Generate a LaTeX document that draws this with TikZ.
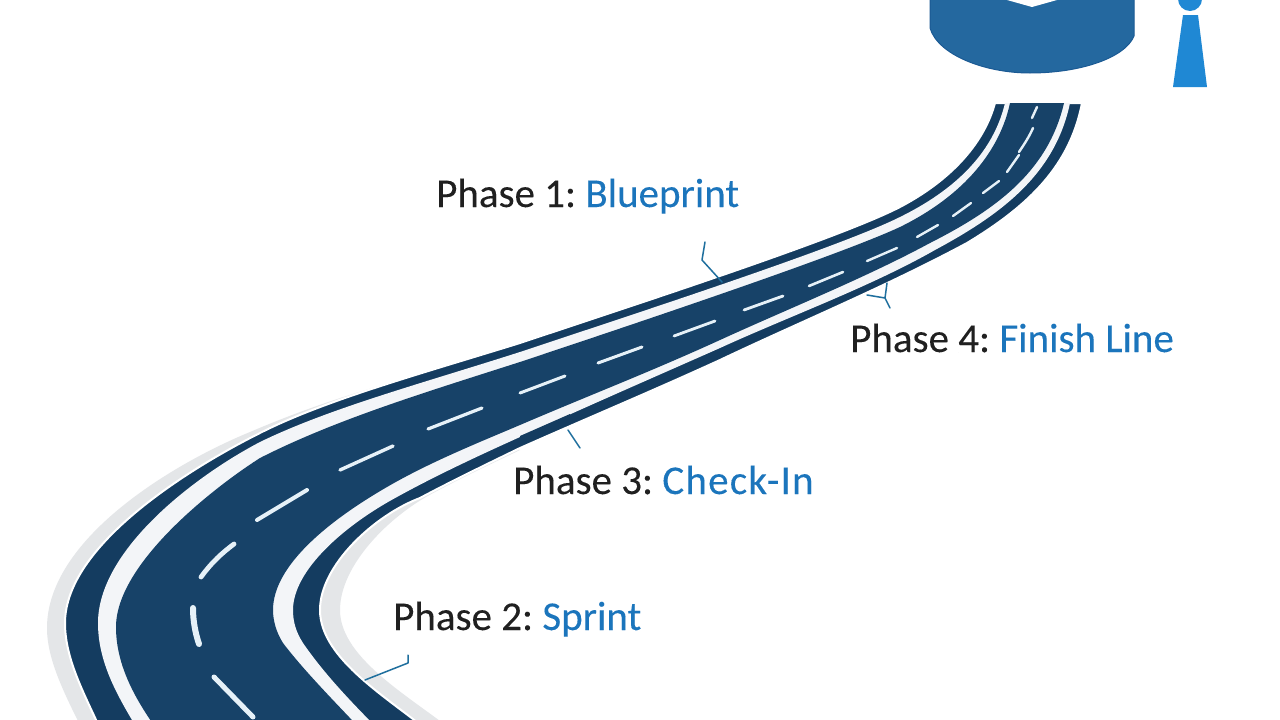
\documentclass[tikz,border=0pt]{standalone}
\usepackage{fontspec}
\newfontfamily\labfont{Carlito}[FakeBold=0.15]
\definecolor{roaddark}{HTML}{174268}
\definecolor{edgedark}{HTML}{143C60}
\definecolor{stripe}{HTML}{F3F5F8}
\definecolor{halo}{HTML}{E4E6E8}
\definecolor{dashc}{HTML}{E6F1F8}
\definecolor{towerblue}{HTML}{24689F}
\definecolor{towerline}{HTML}{1B5A94}
\definecolor{personblue}{HTML}{1F88D4}
\definecolor{calloutc}{HTML}{1F6F9E}
\definecolor{labelblue}{HTML}{1B75BC}
\definecolor{labelblack}{HTML}{202020}
\tikzset{
  dashline/.style={draw=dashc,line cap=round},
  callout/.style={draw=calloutc,line width=1.5pt,line join=round,line cap=round},
  phaselabel/.style={anchor=base west,inner sep=0pt,font=\labfont\fontsize{41}{46}\selectfont,text=labelblack}
}
\newcommand{\hl}[1]{\kern-3pt\textcolor{labelblue}{#1}}
\begin{document}
\begin{tikzpicture}[x=1pt,y=-1pt]
\useasboundingbox (0,0) rectangle (1280,720);
\clip (0,0) rectangle (1280,720);
\fill[white] (0,0) rectangle (1280,720);
% halo
\fill[halo] (393,382) .. controls (330,400) and (290,415) .. (250,432)
  .. controls (170,465) and (47,540) .. (47,628)
  .. controls (47,660) and (65,695) .. (85,735)
  -- (458,735) .. controls (416,700) and (340,660) .. (340,610)
  .. controls (340,565) and (390,515) .. (435,492)
  .. controls (465,476) and (495,462) .. (520,450) -- cycle;
% road body
\fill[edgedark,draw=white,line width=2pt]
  (995,103) .. controls (985,140) and (955,178) .. (900,207)
  .. controls (840,238) and (640,303) .. (520,343)
  .. controls (420,374) and (325,400) .. (260,433)
  .. controls (190,468) and (65,545) .. (65,623)
  .. controls (65,660) and (85,695) .. (103,735)
  -- (433,735) .. controls (392,700) and (320,660) .. (320,610)
  .. controls (320,565) and (375,515) .. (420,498)
  .. controls (450,482) and (485,465) .. (520,448)
  .. controls (590,417) and (650,392) .. (720,360)
  .. controls (800,322) and (885,287) .. (967,243)
  .. controls (1030,205) and (1070,165) .. (1082,103) -- cycle;
% white stripes
\fill[stripe]
  (1005,103) .. controls (995,145) and (965,185) .. (900,217)
  .. controls (840,247) and (640,312) .. (520,352)
  .. controls (420,384) and (330,408) .. (260,442)
  .. controls (195,476) and (98,550) .. (98,623)
  .. controls (98,665) and (120,700) .. (141,735)
  -- (384,735) .. controls (354,705) and (325,675) .. (303,643)
  .. controls (296,632) and (293,622) .. (293,610)
  .. controls (293,570) and (345,525) .. (397,497)
  .. controls (435,476) and (480,455) .. (520,437)
  .. controls (590,405) and (650,379) .. (720,348)
  .. controls (790,316) and (870,287) .. (935,250)
  .. controls (1000,215) and (1055,175) .. (1070,103) -- cycle;
% lane surface
\fill[roaddark]
  (1010,103) .. controls (1000,150) and (965,195) .. (900,227)
  .. controls (840,255) and (640,322) .. (520,362)
  .. controls (420,394) and (335,420) .. (260,458)
  .. controls (210,490) and (116,565) .. (116,627)
  .. controls (116,665) and (135,700) .. (161,735)
  -- (366,735) .. controls (338,705) and (305,672) .. (283,643)
  .. controls (276,632) and (273,620) .. (273,610)
  .. controls (273,565) and (330,520) .. (387,487)
  .. controls (430,462) and (480,442) .. (520,425)
  .. controls (590,395) and (650,372) .. (720,340)
  .. controls (790,308) and (865,278) .. (930,243)
  .. controls (995,210) and (1048,172) .. (1064,103) -- cycle;
% step of the outer band beside the Phase 3 leader
\fill[edgedark] (520,436) -- (570,414) -- (570,424) -- (520,446) -- cycle;
% centre dashes
\begin{scope}[dashline]
\draw[line width=2.4pt] (1032,118) -- (1037,107);
\draw[line width=2.4pt] (1019,152) .. controls (1025,143) and (1029,137) .. (1033,128);
\draw[line width=2.4pt] (1007,172) -- (1019,155);
\draw[line width=2.4pt] (983,193) -- (999,181);
\draw[line width=2.4pt] (953,216) -- (971,203);
\draw[line width=2.4pt] (917,237) -- (938,225);
\draw[line width=2.4pt] (867,261) -- (897,248);
\draw[line width=2.6pt] (809,286) -- (843,272);
\draw[line width=2.8pt] (744,310) -- (783,296);
\draw[line width=2.8pt] (674,336) -- (715,321);
\draw[line width=3pt] (598,363) -- (642,347);
\draw[line width=3pt] (520,393) -- (565,376);
\draw[line width=3.2pt] (428,429) -- (482,408);
\draw[line width=3.4pt] (340,470) -- (393,446);
\draw[line width=4pt] (257,520) -- (307,490);
\draw[line width=4.8pt] (201,577) .. controls (212,562) and (222,553) .. (234,544);
\draw[line width=6pt] (193,608) .. controls (193,620) and (195,632) .. (199,644);
\draw[line width=5pt] (214,677) -- (253,717);
\end{scope}
% destination tower
\fill[towerblue,draw=towerline,line width=1pt] (930,-3) -- (930,28)
  .. controls (938,55) and (985,73) .. (1030,73)
  .. controls (1080,73) and (1125,58) .. (1134,36) -- (1134,-3) -- cycle;
\fill[white] (1007,-3) -- (1007,0) -- (1032,7) -- (1057,0) -- (1057,-3) -- cycle;
% person
\fill[personblue] (1190,-1) circle (12);
\fill[personblue] (1183,15) -- (1198,15) -- (1207,87) -- (1173,87) -- cycle;
% leader lines
\draw[callout] (705,242) -- (702,260) -- (722,282);
\draw[callout] (408,655) -- (408,663) -- (365,680);
\draw[callout] (568,430) -- (580,448);
\draw[callout] (887,283) -- (885,298) -- (890,308);
\draw[callout] (867,295) -- (885,298);
% labels
\node[phaselabel] (p1) at (436,207) {Phase 1: \hl{Blueprint}};
\node[phaselabel] (p2) at (393,630) {Phase 2: \hl{Sprint}};
\node[phaselabel] (p3) at (513,494) {Phase 3: \hl{\addfontfeature{LetterSpace=3}Check-In}};
\node[phaselabel] (p4) at (850,352) {Phase 4: \hl{Finish Line}};
\end{tikzpicture}
\end{document}
